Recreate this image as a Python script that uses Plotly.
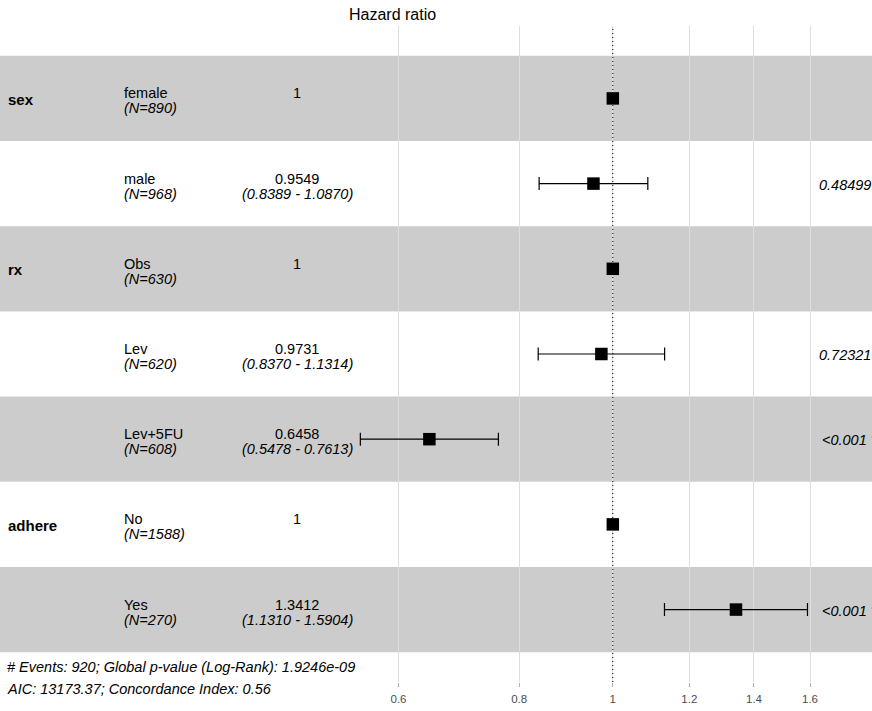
import plotly.graph_objects as go

# ---------------- data ----------------
variables = ["sex", "", "rx", "", "", "adhere", ""]
levels = ["female", "male", "Obs", "Lev", "Lev+5FU", "No", "Yes"]
n_obs = [890, 968, 630, 620, 608, 1588, 270]
hr = [1, 0.9549, 1, 0.9731, 0.6458, 1, 1.3412]
ci_low = [None, 0.8389, None, 0.8370, 0.5478, None, 1.1310]
ci_high = [None, 1.0870, None, 1.1314, 0.7613, None, 1.5904]
p_text = ["", "0.48499", "", "0.72321", "<0.001 ***", "", "<0.001 ***"]
x_ticks = [0.6, 0.8, 1, 1.2, 1.4, 1.6]
tick_labels = ["0.6", "0.8", "1", "1.2", "1.4", "1.6"]
n_events = 920
global_p = "1.9246e-09"
aic = 13173.37
concordance = 0.56
title_text = "Hazard ratio"

# ---------------- layout constants ----------------
W, H = 872, 711
FONT = "Liberation Sans, Arial, sans-serif"
FS = 14.5
n = len(levels)
pos = [n - i for i in range(n)]  # top row has the highest position
PAD = 2  # annotation inner padding compensation

def px(xpix):
    return xpix / W

# Arial width table (em) to mimic ggplot's hjust=-0.2 for stars column
AW = {".": 0.278, "<": 0.584, " ": 0.278, "*": 0.389}
def text_w(s, size):
    return sum(AW.get(c, 0.556) for c in s) * size

fig = go.Figure()

ref_idx = [i for i in range(n) if ci_low[i] is None]
est_idx = [i for i in range(n) if ci_low[i] is not None]

fig.add_trace(go.Scatter(
    x=[hr[i] for i in ref_idx], y=[pos[i] for i in ref_idx],
    mode="markers", marker=dict(symbol="square", size=12.5, color="black"),
    hoverinfo="skip", showlegend=False))

fig.add_trace(go.Scatter(
    x=[hr[i] for i in est_idx], y=[pos[i] for i in est_idx],
    mode="markers", marker=dict(symbol="square", size=12.5, color="black"),
    error_x=dict(type="data", symmetric=False,
                 array=[ci_high[i] - hr[i] for i in est_idx],
                 arrayminus=[hr[i] - ci_low[i] for i in est_idx],
                 color="black", thickness=1.2, width=6.5),
    hoverinfo="skip", showlegend=False))

shapes = []
for i in range(n):
    gray = (pos[i] % 2 == 1)
    shapes.append(dict(type="rect", xref="paper", yref="y", x0=0, x1=1,
                       y0=pos[i] - 0.5, y1=pos[i] + 0.5,
                       fillcolor="rgba(0,0,0,0.2)" if gray else "rgba(255,255,255,0.2)",
                       line=dict(width=0), layer="between"))
shapes.append(dict(type="line", xref="x", yref="paper", x0=1, x1=1, y0=0, y1=1,
                   line=dict(color="black", width=1, dash="1px,3px"), layer="above"))

ann = []
base = dict(showarrow=False, xref="paper", yref="y")
for i in range(n):
    y = pos[i]
    if variables[i]:
        ann.append(dict(base, x=px(8 - PAD), y=y, xanchor="left", yanchor="middle", yshift=-1,
                        text="<b>%s</b>" % variables[i],
                        font=dict(family=FONT, size=15, color="black")))
    ann.append(dict(base, x=px(124 - PAD), y=y, xanchor="left", yanchor="middle", yshift=5,
                    text=levels[i], font=dict(family=FONT, size=FS, color="black")))
    ann.append(dict(base, x=px(124 - PAD), y=y, xanchor="left", yanchor="middle", yshift=-10,
                    text="<i>(N=%d)</i>" % n_obs[i], font=dict(family=FONT, size=FS, color="black")))
    est = "1" if ci_low[i] is None else "%.4f" % hr[i]
    ann.append(dict(base, x=px(297), y=y, xanchor="center", yanchor="middle", yshift=5,
                    text=est, font=dict(family=FONT, size=FS, color="black")))
    if ci_low[i] is not None:
        ann.append(dict(base, x=px(297), y=y, xanchor="center", yanchor="middle", yshift=-10,
                        text="<i>(%.4f - %.4f)</i>" % (ci_low[i], ci_high[i]),
                        font=dict(family=FONT, size=FS, color="black")))
    if p_text[i]:
        start = 808.6 + 0.2 * text_w(p_text[i], FS)
        ann.append(dict(base, x=px(start - PAD), y=y, xanchor="left", yanchor="middle", yshift=-1,
                        text="<i>%s</i>" % p_text[i],
                        font=dict(family=FONT, size=FS, color="black")))

# footer
ann.append(dict(base, x=px(8 - PAD - 1), y=0.5, xanchor="left", yanchor="middle", yshift=-14.5,
                text="<i># Events: %d; Global p-value (Log-Rank): %s</i>" % (n_events, global_p),
                font=dict(family=FONT, size=FS, color="black")))
ann.append(dict(base, x=px(8 - PAD - 1), y=0.5, xanchor="left", yanchor="middle", yshift=-36.5,
                text="<i>AIC: %.2f; Concordance Index: %.2f</i>" % (aic, concordance),
                font=dict(family=FONT, size=FS, color="black")))
# title
ann.append(dict(showarrow=False, xref="paper", yref="paper", x=px(392.5), y=1,
                xanchor="center", yanchor="middle", yshift=12,
                text=title_text, font=dict(family=FONT, size=16, color="black")))

fig.update_layout(
    width=W, height=H,
    margin=dict(l=0, r=0, t=26, b=28.5, pad=0),
    paper_bgcolor="white", plot_bgcolor="white",
    shapes=shapes, annotations=ann,
    showlegend=False,
    xaxis=dict(type="log", range=[-0.6344, 0.2683], tickvals=x_ticks, ticktext=tick_labels,
               showgrid=True, gridcolor="#dedede", gridwidth=1, zeroline=False,
               showline=False, ticks="outside", ticklen=4, tickcolor="#b3b3b3", tickwidth=1,
               ticklabelstandoff=2,
               tickfont=dict(family=FONT, size=11.5, color="#4d4d4d"), fixedrange=True),
    yaxis=dict(range=[0.15, n + 0.85], showgrid=False, zeroline=False, showline=False,
               showticklabels=False, ticks="", fixedrange=True),
)

fig.write_html("out.html", config={"displayModeBar": False},
               post_script="document.body.style.margin='0';document.body.style.overflow='hidden';")
